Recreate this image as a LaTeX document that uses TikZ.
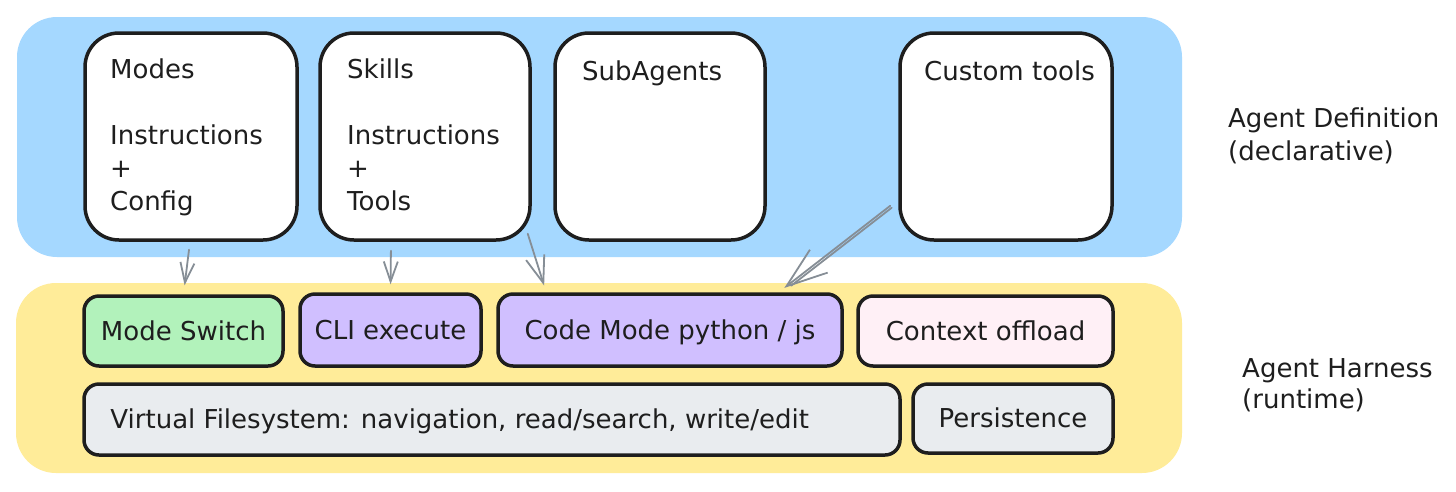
\documentclass[tikz,border=0pt]{standalone}
\usepackage{fontspec}
\setmainfont{DejaVu Sans}
\usetikzlibrary{arrows.meta,fit}
\definecolor{bluebg}{HTML}{A5D8FF}
\definecolor{yellowbg}{HTML}{FFEC99}
\definecolor{greenbox}{HTML}{B2F2BB}
\definecolor{purplebox}{HTML}{D0BFFF}
\definecolor{pinkbox}{HTML}{FFF0F6}
\definecolor{graybox}{HTML}{E9ECEF}
\definecolor{arrowgray}{HTML}{868E96}
\definecolor{ink}{HTML}{1E1E1E}
\begin{document}
\begin{tikzpicture}[x=1pt,y=-1pt,
  region/.style={fill=#1, draw=none, rounded corners=40pt, inner sep=0pt},
  bigbox/.style={fill=white, draw=ink, line width=3.5pt, rounded corners=34pt, inner sep=0pt},
  smallbox/.style={fill=#1, draw=ink, line width=3.5pt, rounded corners=15pt, inner sep=0pt},
  txt/.style={text=ink, font=\fontsize{26}{33}\selectfont, inner sep=0pt},
  boxtxt/.style={txt, anchor=base},
  conn/.style={draw=arrowgray, line width=1.8pt, line cap=round, line join=round}
]
\useasboundingbox (0,0) rectangle (1456,491);
\fill[white] (0,0) rectangle (1456,491);

% regions
\node[region=bluebg, fit={(17,17)(1182,257)}] (defregion) {};
\node[region=yellowbg, fit={(16,283)(1182,473)}] (harnessregion) {};

% definition boxes
\node[bigbox, fit={(85,33)(297,240)}] (modes) {};
\node[bigbox, fit={(320,33)(530,240)}] (skills) {};
\node[bigbox, fit={(555,33)(765,240)}] (subagents) {};
\node[bigbox, fit={(900,33)(1112,240)}] (custom) {};

\node[txt, anchor=base west] at (110,78) {Modes};
\node[txt, anchor=base west] at (110,144) {Instructions};
\node[txt, anchor=base west] at (110,177) {+};
\node[txt, anchor=base west] at (110,210) {Config};

\node[txt, anchor=base west] at (347,78) {Skills};
\node[txt, anchor=base west] at (347,144) {Instructions};
\node[txt, anchor=base west] at (347,177) {+};
\node[txt, anchor=base west] at (347,210) {Tools};

\node[txt, anchor=base west] at (582,80) {SubAgents};
\node[txt, anchor=base west] at (924,80) {Custom tools};

% harness boxes
\node[smallbox=greenbox, fit={(84,296)(283,366)}] (ms) {};
\node[boxtxt] at ([yshift=-9pt]ms.center) {Mode Switch};
\node[smallbox=purplebox, fit={(300,294)(481,366)}] (cli) {};
\node[boxtxt] at ([yshift=-9pt]cli.center) {CLI execute};
\node[smallbox=purplebox, fit={(498,294)(842,366)}] (code) {};
\node[boxtxt] at ([yshift=-9pt]code.center) {Code Mode python / js};
\node[smallbox=pinkbox, fit={(858,296)(1113,366)}] (ctx) {};
\node[boxtxt] at ([yshift=-9pt]ctx.center) {Context offload};
\node[smallbox=graybox, fit={(84,384)(900,455)}] (vfs) {};
\node[txt, anchor=base west] at ([shift={(28pt,-9pt)}]vfs.west) {Virtual Filesystem: navigation, read/search, write/edit};
\node[smallbox=graybox, fit={(913,384)(1113,453)}] (persist) {};
\node[boxtxt] at ([yshift=-9pt]persist.center) {Persistence};

% side labels
\node[txt, anchor=base west] at (1228,127) {Agent Definition};
\node[txt, anchor=base west] at (1228,160) {(declarative)};
\node[txt, anchor=base west] at (1242,377) {Agent Harness};
\node[txt, anchor=base west] at (1242,408) {(runtime)};

% connectors
\draw[conn, -{Straight Barb[length=20pt,width=14pt]}, shorten <=8pt, shorten >=9pt]
  ([xshift=-1pt]modes.south) -- (ms.north);
\draw[conn, -{Straight Barb[length=20pt,width=14pt]}, shorten <=9pt, shorten >=8pt]
  ([xshift=-34pt]skills.south) -- (cli.north);
\coordinate (skA) at ([shift={(-4pt,8pt)}]skills.south east);
\coordinate (skB) at ([xshift=50pt]code.north west);
\draw[conn, -{Straight Barb[length=27pt,width=19pt]}, shorten >=7pt] (skA) -- (skB);
\coordinate (ctA) at ([shift={(-8pt,36pt)}]custom.south west);
\coordinate (ctB) at ([xshift=-65pt]code.north east);
\draw[conn, -{Straight Barb[length=41pt,width=29pt]}, shorten >=7pt] (ctA) -- (ctB);
\draw[conn, shorten >=14pt] ([shift={(1.4pt,-2pt)}]ctA) -- ([shift={(1.4pt,-2pt)}]ctB);
\end{tikzpicture}
\end{document}
